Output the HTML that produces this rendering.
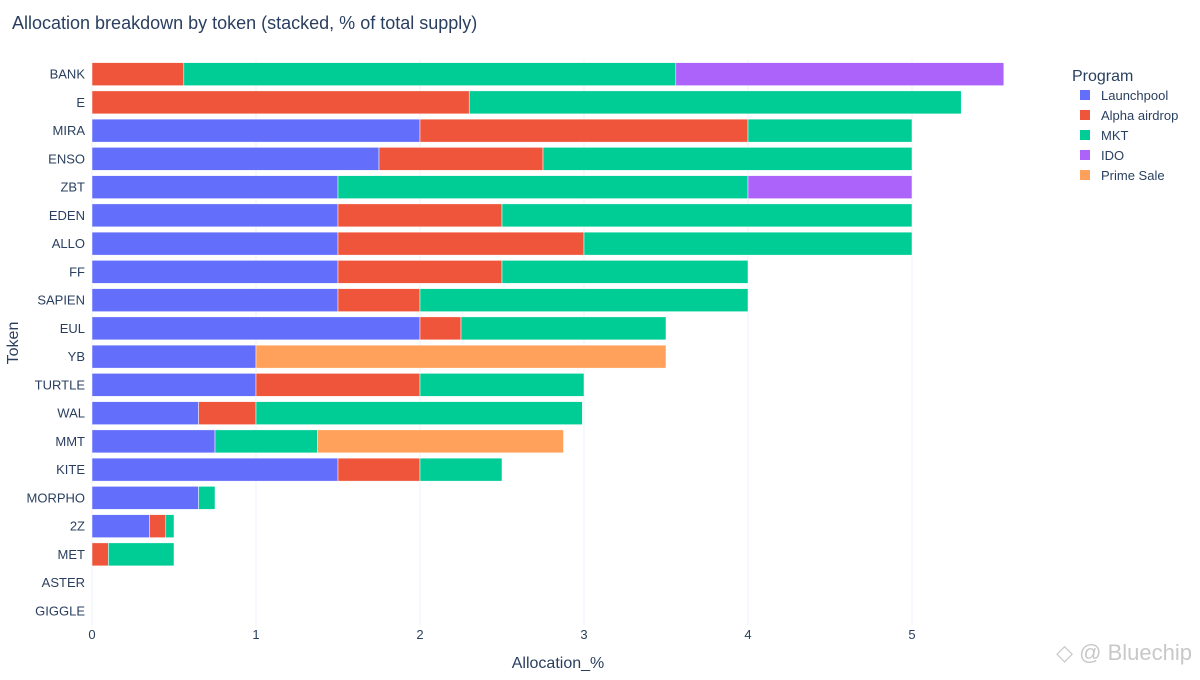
<!DOCTYPE html>
<html><head><meta charset="utf-8"><style>
body{margin:0;background:#fff;font-family:"Liberation Sans","DejaVu Sans",sans-serif}
svg text{fill:#2a3f5f}
</style></head><body>
<svg id="chart" width="1200" height="675" xmlns="http://www.w3.org/2000/svg">
<text x="12" y="29" font-size="18">Allocation breakdown by token (stacked, % of total supply)</text>
<g id="grid"></g><g id="bars"></g><g id="ylabels"></g><g id="xlabels"></g>
<text x="558" y="668" font-size="16" text-anchor="middle">Allocation_%</text>
<text transform="translate(18,343) rotate(-90)" font-size="16" text-anchor="middle">Token</text>
<g id="legend">
<text x="1072" y="81" font-size="16">Program</text>
</g>
<text x="1192" y="660" font-size="22" text-anchor="end" style="fill:#c8c8c8">◇ @ Bluechip</text>
</svg>
<script>
const tokens=["BANK","E","MIRA","ENSO","ZBT","EDEN","ALLO","FF","SAPIEN","EUL","YB","TURTLE","WAL","MMT","KITE","MORPHO","2Z","MET","ASTER","GIGGLE"];
const launchpool=[0,0,2,1.75,1.5,1.5,1.5,1.5,1.5,2,1,1,0.65,0.75,1.5,0.65,0.35,0,0,0];
const alphaAirdrop=[0.56,2.3,2,1,0,1,1.5,1,0.5,0.25,0,1,0.35,0,0.5,0,0.1,0.1,0,0];
const mkt=[3,3,1,2.25,2.5,2.5,2,1.5,2,1.25,0,1,1.99,0.625,0.5,0.1,0.05,0.4,0,0];
const ido=[2,0,0,0,1,0,0,0,0,0,0,0,0,0,0,0,0,0,0,0];
const primeSale=[0,0,0,0,0,0,0,0,0,0,2.5,0,0,1.5,0,0,0,0,0,0];
const xTicks=[0,1,2,3,4,5];
const seriesNames=["Launchpool","Alpha airdrop","MKT","IDO","Prime Sale"];
const NS="http://www.w3.org/2000/svg";
const colors=["#636efa","#EF553B","#00cc96","#ab63fa","#FFA15A"];
const series=[launchpool,alphaAirdrop,mkt,ido,primeSale];
const x=v=>92+v*164;
const yTop=60,yBot=625,step=(yBot-yTop)/tokens.length;
const y=i=>yTop+step*(i+0.5);
function mk(t,a,p){const e=document.createElementNS(NS,t);for(const k in a)e.setAttribute(k,a[k]);document.getElementById(p).appendChild(e);return e;}
xTicks.forEach(t=>{
 const l=mk("line",{x1:x(t),x2:x(t),y1:yTop,y2:yBot,stroke:t===0?"#ebf0f8":"#ebf0f8","stroke-width":1},"grid");
 
 
 const tx=mk("text",{x:x(t),y:yBot+14,"font-size":13,"text-anchor":"middle"},"xlabels");
 tx.textContent=t;
 
 
});
tokens.forEach((tok,i)=>{
 const tx=mk("text",{x:91-6,y:y(i)+4.5,"font-size":13,"text-anchor":"end"},"ylabels");
 tx.textContent=tok;
 
 
 let acc=0;
 series.forEach((s,k)=>{
  const v=s[i]; if(v<=0)return;
  const r=mk("rect",{x:x(acc),y:y(i)-11.5,width:x(acc+v)-x(acc),height:23,fill:colors[k],stroke:"#fff","stroke-width":0.5},"bars");
  
  
  acc+=v;
 });
});
seriesNames.forEach((n,k)=>{
 const r=mk("rect",{x:1080,y:90+20*k,width:10,height:10,fill:colors[k]},"legend");
 
 
 const t=mk("text",{x:1101,y:100+20*k,"font-size":13},"legend");
 t.textContent=n;
 
 
});
</script>
</body></html>
